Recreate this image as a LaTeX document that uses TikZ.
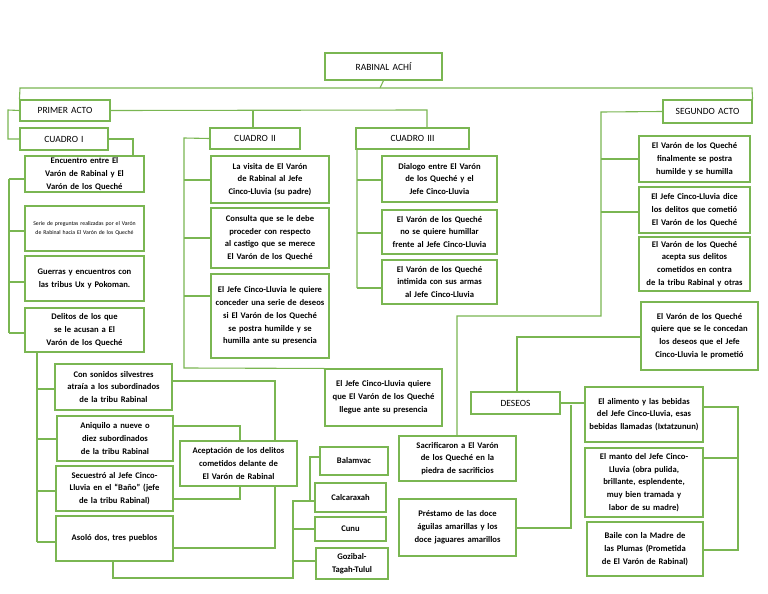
\documentclass[tikz,border=0pt]{standalone}
\usepackage{fontspec}
\setmainfont{Carlito}
\hyphenpenalty=10000
\definecolor{gr}{RGB}{122,182,82}
\pgfdeclarelayer{bg}\pgfsetlayers{bg,main}
\tikzset{bx/.style={draw=gr,line width=1.1pt,fill=white,inner sep=0pt,align=center,font=\fontsize{8.6}{12.8}\selectfont\bfseries},
hd/.style={bx,font=\fontsize{9.5}{11}\selectfont},
ln/.style={draw=gr,line width=1.1pt}}
\newcommand\mybox[7][bx]{\pgfmathsetmacro\cx{(#3+#5)/2}\pgfmathsetmacro\cy{(#4+#6)/2}\pgfmathsetmacro\ww{#5-#3}\pgfmathsetmacro\hh{#6-#4}\pgfmathsetmacro\tw{#5-#3-8}\node[#1,minimum width=\ww pt,minimum height=\hh pt,text width=\tw pt] (#2) at (\cx,\cy) {#7};}
\begin{document}
\begin{tikzpicture}[x=1pt,y=-1pt]
\useasboundingbox (0,0) rectangle (768,594);
\mybox[hd]{rab}{325}{53}{442}{80}{RABINAL ACHÍ}
\mybox[hd]{pa}{20}{100}{110}{121}{PRIMER ACTO}
\mybox[hd]{sa}{663}{100}{752}{123}{SEGUNDO ACTO}
\mybox[hd]{c1}{20}{128}{108}{150}{CUADRO I}
\mybox[hd]{c2}{210}{128}{300}{149}{CUADRO II}
\mybox[hd]{c3}{356}{128}{469}{149}{CUADRO III}
\mybox{a1}{25}{156}{144}{192}{Encuentro entre El Varón de Rabinal y El Varón de los Queché}
\mybox[bx,font=\fontsize{5.8}{8.5}\selectfont]{a2}{25}{206}{144}{251}{Serie de preguntas realizadas por el Varón de Rabinal hacia El Varón de los Queché}
\mybox{a3}{25}{256}{144}{301}{Guerras y encuentros con las tribus Ux y Pokoman.\\[8pt]}
\mybox{a4}{25}{308}{144}{352}{Delitos de los que se le acusan a El Varón de los Queché}
\mybox{d1}{55}{364}{172}{410}{Con sonidos silvestres atraía a los subordinados de la tribu Rabinal}
\mybox{d2}{57}{416}{173}{461}{Aniquilo a nueve o diez subordinados de la tribu Rabinal}
\mybox{d3}{56}{466}{173}{511}{Secuestró al Jefe Cinco-Lluvia en el “Baño” (jefe de la tribu Rabinal)}
\mybox{d4}{56}{516}{173}{561}{Asoló dos, tres pueblos\\[10pt]}
\mybox{ac}{180}{441}{297}{486}{Aceptación de los delitos cometidos delante de El Varón de Rabinal}
\mybox{p1}{320}{447}{388}{475}{Balamvac\\[6pt]}
\mybox{p2}{315}{483}{386}{512}{Calcaraxah\\[6pt]}
\mybox{p3}{315}{517}{386}{541}{Cunu\\[3pt]}
\mybox{p4}{316}{548}{388}{579}{Gozibal-\\Tagah-Tulul}
\mybox{b1}{211}{156}{329}{203}{La visita de El Varón de Rabinal al Jefe Cinco-Lluvia (su padre)}
\mybox{b2}{211}{208}{329}{268}{Consulta que se le debe proceder con respecto al castigo que se merece El Varón de los Queché}
\mybox{b3}{211}{274}{329}{358}{El Jefe Cinco-Lluvia le quiere conceder una serie de deseos si El Varón de los Queché se postra humilde y se humilla ante su presencia}
\mybox{jq}{325}{369}{442}{426}{El Jefe Cinco-Lluvia quiere que El Varón de los Queché llegue ante su presencia}
\mybox{e1}{382}{156}{497}{202}{Dialogo entre El Varón de los Queché y el Jefe Cinco-Lluvia}
\mybox{e2}{382}{210}{497}{254}{El Varón de los Queché no se quiere humillar frente al Jefe Cinco-Lluvia}
\mybox{e3}{382}{260}{497}{304}{El Varón de los Queché intimida con sus armas al Jefe Cinco-Lluvia}
\mybox{s1}{639}{136}{750}{182}{El Varón de los Queché finalmente se postra humilde y se humilla}
\mybox{s2}{639}{187}{750}{233}{El Jefe Cinco-Lluvia dice los delitos que cometió El Varón de los Queché}
\mybox{s3}{639}{237}{750}{291}{El Varón de los Queché acepta sus delitos cometidos en contra de la tribu Rabinal y otras}
\mybox{s4}{641}{302}{758}{370}{El Varón de los Queché quiere que se le concedan los deseos que el Jefe Cinco-Lluvia le prometió}
\mybox[hd]{de}{471}{392}{560}{414}{DESEOS}
\mybox{sc}{399}{436}{516}{481}{Sacrificaron a El Varón de los Queché en la piedra de sacrificios}
\mybox{pr}{399}{499}{516}{556}{Préstamo de las doce águilas amarillas y los doce jaguares amarillos}
\mybox{w1}{585}{387}{703}{442}{El alimento y las bebidas del Jefe Cinco-Lluvia, esas bebidas llamadas (Ixtatzunun)}
\mybox{w2}{585}{448}{703}{517}{El manto del Jefe Cinco-Lluvia (obra pulida, brillante, esplendente, muy bien tramada y labor de su madre)}
\mybox{w3}{587}{522}{703}{576}{Baile con la Madre de las Plumas (Prometida de El Varón de Rabinal)}
\begin{pgfonlayer}{bg}
\draw[ln] (rab.south) -- (380,88);
\draw[ln] (pa.north west) -- (20,88) -- (752,88) -- (sa.north east);
\draw[ln] (pa.east) -- (427,110) -- (427,128);
\draw[ln] (253,110) -- (c2.north -| 253,0);
\draw[ln] (pa.west) -- (8,110) -- (8,139) -- (c1.west);
\draw[ln] (c1.east) -- (133,139) -- (a1.north -| 133,0);
\draw[ln] (9,179) -- (9,333);
\foreach \n/\y in {a1/179,a2/231,a3/282,a4/333} \draw[ln] (9,\y) -- (\n.west |- 0,\y);
\draw[ln] (37,352) -- (37,542);
\foreach \n/\y in {d1/389,d2/439,d3/491,d4/542} \draw[ln] (37,\y) -- (\n.west |- 0,\y);
\draw[ln] (d1.east |- 0,381) -- (275,381) -- (275,548) -- (d4.east |- 0,548);
\draw[ln] (d2.east |- 0,426) -- (240,426) -- (ac.north -| 240,0);
\draw[ln] (d3.east |- 0,499) -- (240,499) -- (ac.south -| 240,0);
\draw[ln] (d4.south -| 113,0) -- (113,578) -- (293,578) -- (293,501) -- (p2.west |- 0,501);
\draw[ln] (310,501) -- (310,457) -- (p1.west |- 0,457);
\draw[ln] (293,529) -- (p3.west |- 0,529);
\draw[ln] (293,561) -- (p4.west |- 0,561);
\draw[ln] (c2.west) -- (184,138) -- (184,368) -- (jq.north west);
\foreach \n/\y in {b1/180,b2/238,b3/296} \draw[ln] (184,\y) -- (\n.west |- 0,\y);
\draw[ln] (c3.west) -- (357,139) -- (357,288);
\foreach \n/\y in {e1/180,e2/233,e3/288} \draw[ln] (357,\y) -- (\n.west |- 0,\y);
\draw[ln] (sa.west) -- (601,112) -- (601,316) -- (457,316) -- (sc.north -| 457,0);
\foreach \n/\y in {s1/159,s2/212} \draw[ln] (601,\y) -- (\n.west |- 0,\y);
\draw[ln] (s4.west |- 0,337) -- (517,337) -- (de.north -| 517,0);
\draw[ln] (de.east) -- (w1.west |- de.east);
\draw[ln] (571,405) -- (571,528) -- (pr.east |- 0,528);
\draw[ln] (w1.east |- 0,407) -- (738,407) -- (738,550) -- (w3.east |- 0,550);
\draw[ln] (w2.east |- 0,458) -- (738,458);
\end{pgfonlayer}
\end{tikzpicture}
\end{document}
